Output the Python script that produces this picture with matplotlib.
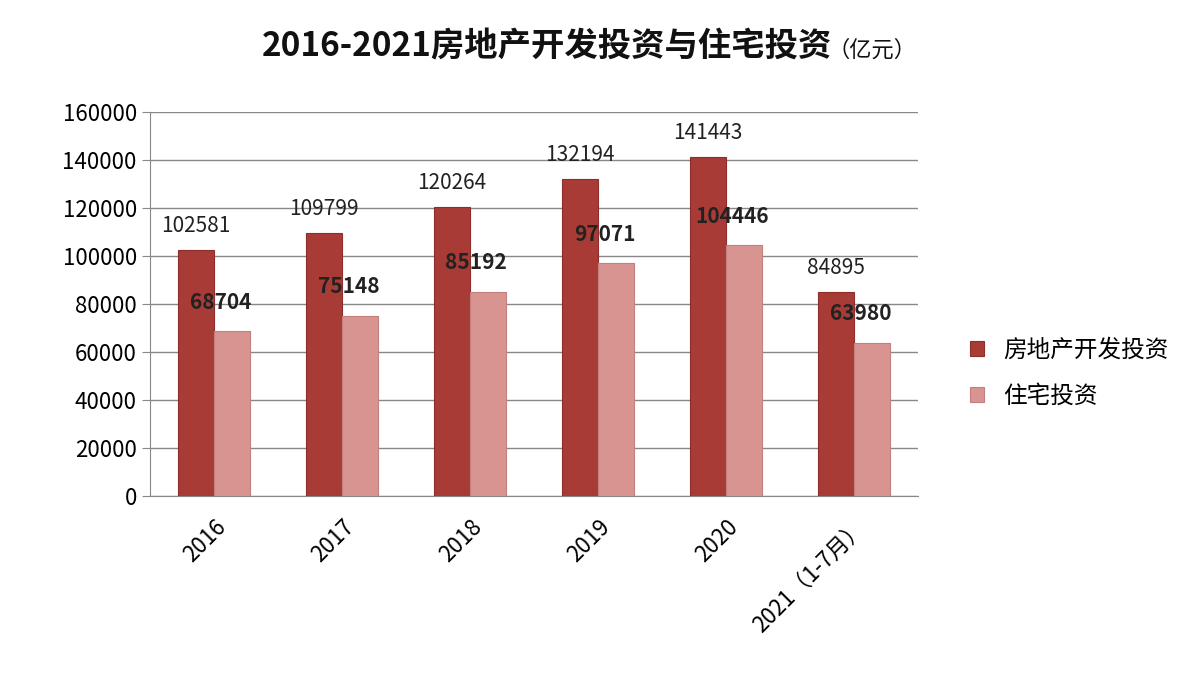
import matplotlib.pyplot as plt
import numpy as np

plt.rcParams['font.family'] = ['Noto Sans CJK SC']

categories = ['2016', '2017', '2018', '2019', '2020', '2021（1-7月）']
dev_invest = [102581, 109799, 120264, 132194, 141443, 84895]
house_invest = [68704, 75148, 85192, 97071, 104446, 63980]
yticks = [0, 20000, 40000, 60000, 80000, 100000, 120000, 140000, 160000]

dark = '#A93B37'
light = '#D89491'

fig = plt.figure(figsize=(12, 6.75), dpi=100)
ax = fig.add_axes([0.125, 0.265, 0.64, 0.569])

x = np.arange(len(categories))
w = 0.28
ax.bar(x - w / 2, dev_invest, w, color=dark, edgecolor='#8C2F2C', linewidth=0.8,
       label='房地产开发投资', zorder=3)
ax.bar(x + w / 2, house_invest, w, color=light, edgecolor='#C47F7C', linewidth=0.8,
       label='住宅投资', zorder=3)

for xi, v in zip(x, dev_invest):
    ax.text(xi - w / 2, v + 10000, f'{v}', ha='center', va='center', fontsize=15,
            color='#222222', zorder=4)
for xi, v in zip(x, house_invest):
    ax.text(xi + 0.05, v + 12000, f'{v}', ha='center', va='center', fontsize=15,
            fontweight='bold', color='#222222', zorder=4)

ax.set_xlim(-0.5, len(categories) - 0.5)
ax.set_ylim(0, 160000)
ax.set_yticks(yticks)
ax.set_yticklabels([str(t) for t in yticks], fontsize=16)
ax.set_xticks(x)
ax.set_xticklabels(categories, fontsize=16, rotation=45, ha='right', rotation_mode='anchor')
ax.grid(axis='y', color='#888888', linewidth=1, zorder=0)
ax.tick_params(axis='y', length=6, color='#888888')
ax.tick_params(axis='x', length=0, pad=14)
for s in ['top', 'right']:
    ax.spines[s].set_visible(False)
ax.spines['left'].set_color('#888888')
ax.spines['bottom'].set_color('#888888')

ax.legend(loc='center left', bbox_to_anchor=(1.04, 0.32), frameon=False,
          fontsize=17, handlelength=0.6, handleheight=0.6, labelspacing=1.0)

fig.text(0.218, 0.93, '2016-2021房地产开发投资与住宅投资', fontsize=24,
         fontweight='bold', va='center', ha='left', color='#111111')
fig.text(0.69, 0.925, '（亿元）', fontsize=16, va='center', ha='left', color='#111111')

fig.savefig('out.png', dpi=100)
